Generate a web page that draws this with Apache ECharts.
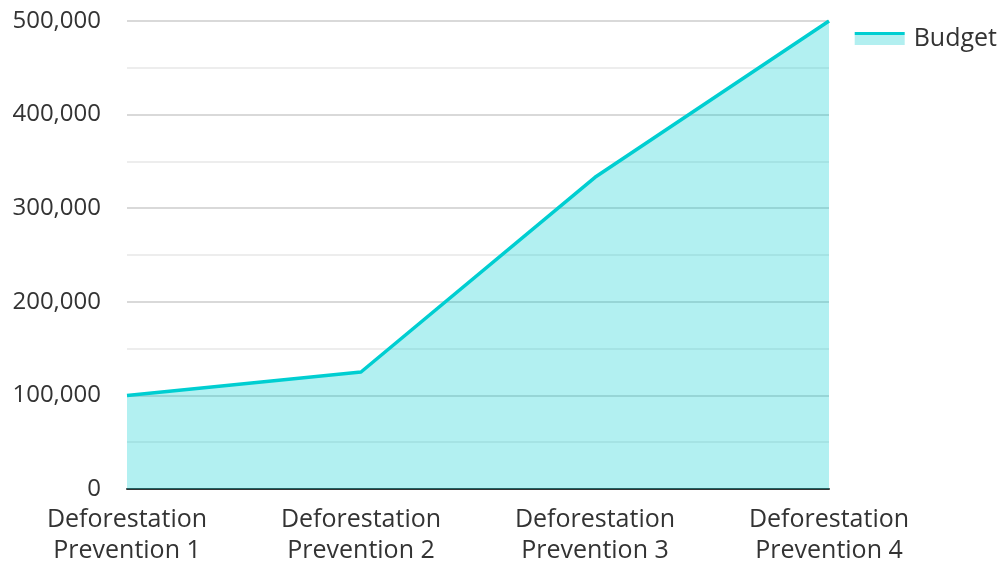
<!DOCTYPE html>
<html>
<head>
<meta charset="utf-8">
<script src="https://cdn.jsdelivr.net/npm/echarts@6/dist/echarts.min.js"></script>
<style>
  html, body { margin: 0; padding: 0; background: #fff; }
  #chart { width: 1003px; height: 561px; }
</style>
</head>
<body>
<div id="chart"></div>
<script>
// Budget per deforestation prevention programme
const categories = [
  'Deforestation\nPrevention 1',
  'Deforestation\nPrevention 2',
  'Deforestation\nPrevention 3',
  'Deforestation\nPrevention 4'
];
const budget = [100000, 125000, 333000, 500000];
const seriesName = 'Budget';

const lineColor = '#00CED1';
const fillColor = 'rgba(0, 206, 209, 0.3)';
const textColor = '#333333';
const fontFamily = '"Open Sans", "Noto Sans", sans-serif';

const chart = echarts.init(document.getElementById('chart'), null, { renderer: 'canvas' });

chart.setOption({
  animation: false,
  backgroundColor: '#ffffff',
  textStyle: { fontFamily: fontFamily },
  grid: { left: 127, right: 174, top: 21, bottom: 72, containLabel: false, outerBoundsMode: 'none' },
  legend: {
    show: true,
    right: 1,
    top: 21,
    itemWidth: 50,
    itemHeight: 13,
    itemGap: 10,
    icon: 'rect',
    data: [{
      name: seriesName,
      itemStyle: {
        color: {
          type: 'linear', x: 0, y: 0, x2: 0, y2: 1,
          colorStops: [
            { offset: 0, color: lineColor },
            { offset: 0.24, color: lineColor },
            { offset: 0.24, color: '#b2eff0' },
            { offset: 1, color: '#b2eff0' }
          ]
        },
        borderWidth: 0
      }
    }],
    textStyle: { color: textColor, fontSize: 25, fontFamily: fontFamily, padding: [0, 0, 0, 4] }
  },
  xAxis: {
    type: 'category',
    data: categories,
    boundaryGap: false,
    axisLine: { show: true, lineStyle: { color: '#333333', width: 2 } },
    axisTick: { show: false },
    axisLabel: {
      color: textColor,
      fontSize: 25,
      lineHeight: 31,
      margin: 15,
      fontFamily: fontFamily,
      interval: 0
    },
    splitLine: { show: false }
  },
  yAxis: {
    type: 'value',
    min: 0,
    max: 500000,
    interval: 100000,
    axisLine: { show: false },
    axisTick: { show: false },
    axisLabel: {
      color: textColor,
      fontSize: 24,
      margin: 26,
      fontFamily: fontFamily,
      formatter: v => v.toLocaleString('en-US')
    },
    splitLine: { show: true, lineStyle: { color: '#cccccc', width: 1.5 } },
    minorTick: { show: false, splitNumber: 2 },
    minorSplitLine: { show: true, lineStyle: { color: '#e8e8e8', width: 1.5 } }
  },
  series: [{
    name: seriesName,
    type: 'line',
    data: budget,
    symbol: 'none',
    smooth: false,
    lineStyle: { color: lineColor, width: 3.5 },
    itemStyle: { color: lineColor },
    areaStyle: { color: fillColor, opacity: 1 },
    z: 3
  }]
});
</script>
</body>
</html>
